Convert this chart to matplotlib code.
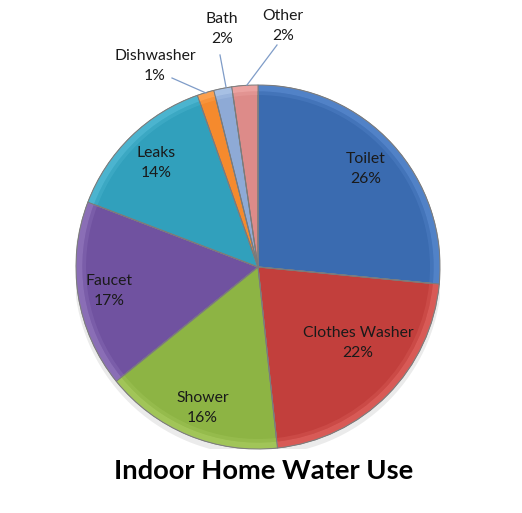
import matplotlib
matplotlib.use("Agg")
import matplotlib.pyplot as plt
import numpy as np
from matplotlib.patches import Wedge

categories = ["Toilet", "Clothes Washer", "Shower", "Faucet", "Leaks", "Dishwasher", "Bath", "Other"]
shares = [26.5, 21.8, 15.9, 16.6, 13.8, 1.5, 1.6, 2.3]
pct_labels = ["26%", "22%", "16%", "17%", "14%", "1%", "2%", "2%"]
title = "Indoor Home Water Use"

colors = ["#3A6BB0", "#C23F3C", "#8DB444", "#7052A0", "#31A0BC", "#F58A2D", "#8EAAD6", "#DD8B89"]
rim_colors = ["#5A8AD0", "#E06460", "#A9CC60", "#9378BE", "#55BCD6", "#FFA85A", "#B0C8EA", "#F0AAA8"]

W, H = 522, 513
fig = plt.figure(figsize=(W / 100, H / 100), dpi=100)
cx, cy, R = 258, 267, 182
ax = fig.add_axes([(cx - R) / W, (H - cy - R) / H, 2 * R / W, 2 * R / H])

shadow = Wedge((0.0, -0.025), 1.01, 0, 360, facecolor="#000000", alpha=0.08, lw=0)
ax.add_patch(shadow)

wedges, _ = ax.pie(shares, colors=colors, startangle=90, counterclock=False,
                   radius=1.0, wedgeprops=dict(edgecolor="#8a8a8a", linewidth=0.8))
ax.set_xlim(-1, 1)
ax.set_ylim(-1, 1)
ax.set_aspect("equal")
ax.axis("off")

for w, rc in zip(wedges, rim_colors):
    t1, t2 = w.theta1, w.theta2
    rim = Wedge((0, 0), 1.0, t1, t2, width=0.035, facecolor=rc, alpha=0.75, lw=0)
    ax.add_patch(rim)
    rim2 = Wedge((0, 0), 0.965, t1, t2, width=0.02, facecolor=rc, alpha=0.3, lw=0)
    ax.add_patch(rim2)
    outline = Wedge((0, 0), 1.0, t1, t2, facecolor="none", edgecolor="#7a7a7a", lw=0.6)
    ax.add_patch(outline)

font = "Lato"
inside = {0: (0.80, 0), 1: (0.69, 7.5), 2: (0.83, 1), 3: (0.83, 0), 4: (0.80, 0)}
for i, (r, off) in inside.items():
    w = wedges[i]
    ang = np.deg2rad((w.theta1 + w.theta2) / 2 + off)
    ax.text(r * np.cos(ang), r * np.sin(ang), f"{categories[i]}\n{pct_labels[i]}",
            ha="center", va="center", fontsize=11.3, family=font, color="#1a1a1a",
            linespacing=1.55)

def px(x, y):
    return ((x - cx) / R, (cy - y) / R)

outside = {5: ((155, 66), (172, 78), (206, 93)),
           6: ((222, 29), (220, 55), (226, 87)),
           7: ((283, 26), (277, 45), (247, 85))}
for i, (lab, l0, l1) in outside.items():
    x, y = px(*lab)
    ax.text(x, y, f"{categories[i]}\n{pct_labels[i]}", ha="center", va="center",
            fontsize=11.3, family=font, color="#1a1a1a", linespacing=1.55, clip_on=False)
    (x0, y0), (x1, y1) = px(*l0), px(*l1)
    ax.plot([x0, x1], [y0, y1], color="#7f9cc8", lw=0.9, clip_on=False)

fig.text(264 / W, 1 - 471 / H, title, ha="center", va="center", fontsize=19.7,
         fontweight="bold", family=font, color="#000000")

fig.savefig("out.png", dpi=100, facecolor="white")
